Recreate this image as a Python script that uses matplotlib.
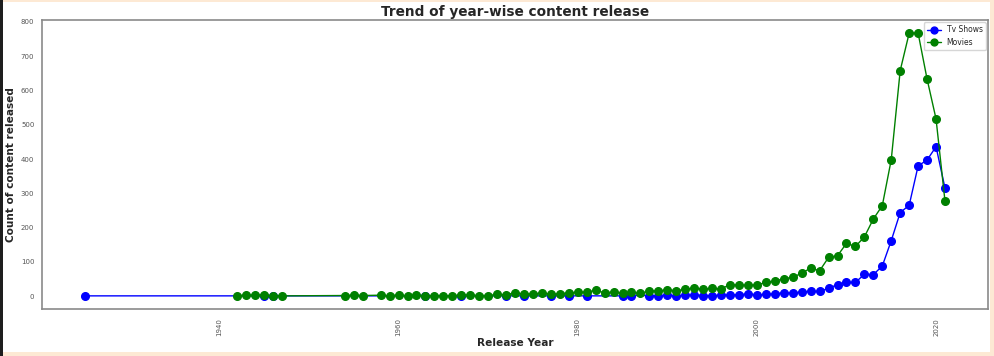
import matplotlib
matplotlib.use("Agg")
import matplotlib.pyplot as plt
import seaborn as sns
from matplotlib.patches import Rectangle

# release year counts per content type
tv_years = [1925, 1945, 1946, 1963, 1967, 1972, 1974, 1977, 1979, 1981,
            1985, 1986] + list(range(1988, 2022))
tv_counts = [1, 1, 1, 1, 1, 1, 1, 1, 1, 1,
             1, 2,
             2, 1, 3, 1, 3, 4, 2, 2, 3, 4, 4, 7, 4, 5, 7, 10, 9, 13,
             14, 14, 23, 34, 40, 40, 64, 63, 88, 162, 244, 265, 380,
             397, 436, 315]

movie_years = [1942, 1943, 1944, 1945, 1946, 1947, 1954, 1955, 1956] \
    + list(range(1958, 2022))
movie_counts = [2, 3, 3, 3, 1, 1, 2, 3, 2,
                3, 1, 4, 1, 3, 1, 2, 2, 1, 4, 3, 2, 2, 5, 4, 10, 6, 7, 9,
                6, 7, 10, 11, 12, 17, 10, 12, 9, 11, 8, 16, 15, 19, 16, 20,
                24, 20, 23, 21, 34, 32, 32, 33, 40, 44, 51, 55, 67, 82, 74,
                113, 118, 154, 145, 173, 225, 264, 398, 658, 767, 767, 633,
                517, 277]


def main():
    sns.set_style("white")
    fig = plt.figure(figsize=(9.94, 3.56), dpi=100)
    fig.patch.set_facecolor("#fde9d4")
    # screenshot frame: white page with a dark strip on the left
    fig.patches.append(Rectangle((3 / 994, 4 / 356), 987 / 994, 350 / 356,
                                 transform=fig.transFigure,
                                 facecolor="white", edgecolor="none",
                                 zorder=-2))
    fig.patches.append(Rectangle((0, 0), 3 / 994, 1,
                                 transform=fig.transFigure,
                                 facecolor="#1e1e1e", edgecolor="none",
                                 zorder=-1))

    ax = fig.add_axes([42 / 994, 47 / 356, 946 / 994, 289 / 356])
    ax.plot(tv_years, tv_counts, color="blue", marker="o", markersize=5.5,
            linewidth=1, label="Tv Shows")
    ax.plot(movie_years, movie_counts, color="green", marker="o",
            markersize=5.5, linewidth=1, label="Movies")

    ax.set_title("Trend of year-wise content release", fontsize=9.8,
                 fontweight="bold", color="#262626", pad=3)
    ax.set_xlabel("Release Year", fontsize=7.6, fontweight="bold",
                  color="#262626")
    ax.set_ylabel("Count of content released", fontsize=7.6,
                  fontweight="bold", color="#262626")
    ax.xaxis.set_label_coords(0.5, -0.10)
    ax.yaxis.set_label_coords(-0.028, 0.5)
    ax.tick_params(axis="x", labelrotation=90, labelsize=5,
                   labelcolor="#555555", length=0, pad=6.5)
    ax.tick_params(axis="y", labelsize=5, labelcolor="#555555",
                   length=0, pad=5.5)
    for spine in ax.spines.values():
        spine.set_color("#8a8a8a")
        spine.set_linewidth(1.2)

    ax.legend(loc="upper right", fontsize=5.5, borderaxespad=0.3,
              handlelength=1.8, markerscale=0.9)

    fig.savefig("out.png", dpi=100, facecolor=fig.get_facecolor())


if __name__ == "__main__":
    main()
